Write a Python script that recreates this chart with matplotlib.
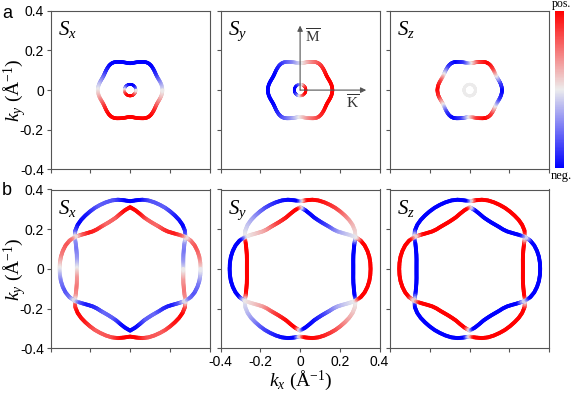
import numpy as np
import matplotlib
matplotlib.use("Agg")
import matplotlib.pyplot as plt
from matplotlib.collections import LineCollection
from matplotlib.colors import LinearSegmentedColormap, Normalize
from matplotlib.cm import ScalarMappable

plt.rcParams["axes.unicode_minus"] = False
plt.rcParams["mathtext.fontset"] = "custom"
plt.rcParams["mathtext.rm"] = "Liberation Serif"
plt.rcParams["mathtext.it"] = "Liberation Serif:italic"
plt.rcParams["mathtext.bf"] = "Liberation Serif:bold"
plt.rcParams["font.family"] = ["Liberation Sans", "DejaVu Sans"]

# ---------------- data ----------------
# contour radii (1/Angstrom) in the first quadrant, every 5 degrees (0..90);
# the contours are mirror symmetric about kx and ky axes
quadrant_deg = [0, 5, 10, 15, 20, 25, 30, 35, 40, 45, 50, 55, 60, 65, 70, 75, 80, 85, 90]
top_outer_r = [0.163, 0.162, 0.160, 0.157, 0.154, 0.152, 0.152, 0.154, 0.157, 0.160,
               0.163, 0.164, 0.162, 0.157, 0.151, 0.146, 0.141, 0.137, 0.135]
top_inner_radius = 0.029
bottom_a_r = [0.355, 0.355, 0.354, 0.351, 0.346, 0.337, 0.322, 0.300, 0.281, 0.267,
              0.260, 0.258, 0.257, 0.258, 0.262, 0.269, 0.282, 0.297, 0.311]
bottom_b_r = [0.268, 0.269, 0.272, 0.278, 0.288, 0.302, 0.322, 0.337, 0.345, 0.349,
              0.351, 0.353, 0.355, 0.356, 0.357, 0.357, 0.354, 0.347, 0.341]

# spin texture stops [angle deg, value] for 0..180 deg; the lower half follows by parity
top_outer_sx = [[0, 0], [10, -0.2], [20, -0.45], [35, -0.8], [50, -1], [130, -1],
                [145, -0.8], [160, -0.45], [170, -0.2], [180, 0]]
top_inner_sx = [[0, 0], [30, -0.6], [60, -0.95], [90, -1], [120, -0.95], [150, -0.6], [180, 0]]
top_outer_sy = [[0, 1], [30, 1], [50, 0.8], [70, 0.45], [90, 0], [110, -0.45],
                [130, -0.8], [150, -1], [180, -1]]
top_inner_sy = [[0, 1], [30, 0.95], [60, 0.6], [90, 0], [120, -0.6], [150, -0.95], [180, -1]]
top_outer_sz = [[0, -1], [15, -0.75], [30, 0], [45, 0.75], [60, 1], [75, 0.75], [90, 0],
                [105, -0.75], [120, -1], [135, -0.75], [150, 0], [165, 0.75], [180, 1]]
top_inner_sz = [[0, 0], [180, 0]]

bottom_a_sx = [[0, 0], [10, 0.45], [20, 0.65], [26, 0.5], [30, 0], [34, 0.6], [40, 0.9],
               [50, 0.8], [60, 0.55], [72, 0.6], [82, 0.95], [90, 1], [98, 0.95],
               [108, 0.6], [120, 0.55], [130, 0.8], [140, 0.9], [146, 0.6], [150, 0],
               [154, 0.5], [160, 0.65], [170, 0.45], [180, 0]]
bottom_b_sx = [[0, 0], [10, -0.35], [20, -0.5], [26, -0.4], [30, 0], [34, -0.7], [40, -1],
               [50, -0.9], [62, -0.6], [75, -0.65], [84, -1], [90, -1], [96, -1],
               [105, -0.65], [118, -0.6], [130, -0.9], [140, -1], [146, -0.7], [150, 0],
               [154, -0.4], [160, -0.5], [170, -0.35], [180, 0]]
bottom_a_sy = [[0, 1], [25, 1], [30, 0], [45, -0.3], [60, -0.7], [75, -0.95], [86, -1],
               [90, 0], [94, 1], [105, 0.95], [120, 0.7], [135, 0.3], [150, 0], [155, -1],
               [180, -1]]
bottom_b_sy = [[0, -1], [25, -1], [30, 0], [45, 0.3], [60, 0.7], [75, 0.95], [86, 1],
               [90, 0], [94, -1], [105, -0.95], [120, -0.7], [135, -0.3], [150, 0], [155, 1],
               [180, 1]]
bottom_a_sz = [[0, -1], [25, -1], [30, 0], [35, -1], [86, -1], [90, 0], [94, 1], [145, 1],
               [150, 0], [155, 1], [180, 1]]
bottom_b_sz = [[0, 1], [25, 1], [30, 0], [35, 1], [86, 1], [90, 0], [94, -1], [145, -1],
               [150, 0], [155, -1], [180, -1]]

# parity of each component under ky -> -ky
parity = {"x": -1, "y": 1, "z": 1}

tick_values = [-0.4, -0.2, 0, 0.2, 0.4]
tick_labels = ["-0.4", "-0.2", "0", "0.2", "0.4"]
panel_labels = [r"$S_x$", r"$S_y$", r"$S_z$"]

# ---------------- helpers ----------------
cmap = LinearSegmentedColormap.from_list("spin", ["#0000ff", "#ececec", "#ff0000"])
norm = Normalize(-1, 1)
full_deg = np.arange(0, 360, 5)


def full_ring(quad_r):
    q = np.asarray(quad_r, dtype=float)
    t = full_deg % 180
    t = np.where(t > 90, 180 - t, t)
    return q[(t // 5).astype(int)]


def full_stops(half, par):
    d = [s[0] for s in half] + [360 - s[0] for s in reversed(half[:-1])]
    v = [s[1] for s in half] + [par * s[1] for s in reversed(half[:-1])]
    return np.array(d, float), np.array(v, float)


def draw_contour(ax, r, stops, par, lw, nsub=4):
    th = np.deg2rad(full_deg)
    x = np.append(r * np.cos(th), r[0])
    y = np.append(r * np.sin(th), 0.0)
    sd, sv = full_stops(stops, par)
    segs, mids = [], []
    for i in range(len(full_deg)):
        for k in range(nsub):
            t0, t1 = k / nsub, (k + 1) / nsub
            p0 = (x[i] + (x[i + 1] - x[i]) * t0, y[i] + (y[i + 1] - y[i]) * t0)
            p1 = (x[i] + (x[i + 1] - x[i]) * t1, y[i] + (y[i + 1] - y[i]) * t1)
            segs.append([p0, p1])
            mids.append(full_deg[i] + 5 * (k + 0.5) / nsub)
    vals = np.interp(mids, sd, sv)
    lc = LineCollection(segs, colors=cmap(norm(vals)), linewidths=lw,
                        capstyle="round", joinstyle="round", zorder=2)
    ax.add_collection(lc)


# ---------------- figure ----------------
W, H = 571, 396
fig = plt.figure(figsize=(W / 100, H / 100), dpi=100)
lefts_px = [50.7, 220.7, 390.3]
size_px = 158.8
tops_px = [10.7, 189.5]
spine_c = "#555555"

top_sets = [(top_outer_sx, top_inner_sx, "x"), (top_outer_sy, top_inner_sy, "y"),
            (top_outer_sz, top_inner_sz, "z")]
bottom_sets = [(bottom_a_sx, bottom_b_sx, "x"), (bottom_a_sy, bottom_b_sy, "y"),
               (bottom_a_sz, bottom_b_sz, "z")]

r_top_outer = full_ring(top_outer_r)
r_top_inner = np.full(len(full_deg), top_inner_radius)
r_a = full_ring(bottom_a_r)
r_b = full_ring(bottom_b_r)

for row in range(2):
    for col in range(3):
        ax = fig.add_axes([lefts_px[col] / W, 1 - (tops_px[row] + size_px) / H,
                           size_px / W, size_px / H])
        ax.set_xlim(-0.4, 0.4)
        ax.set_ylim(-0.4, 0.4)
        for s in ax.spines.values():
            s.set_color(spine_c)
            s.set_linewidth(0.8)
        ax.tick_params(direction="out", length=3, width=0.8, color=spine_c,
                       labelsize=10, pad=2)
        ax.set_xticks(tick_values)
        ax.set_yticks(tick_values)
        if row == 1 and col == 1:
            ax.set_xticklabels(tick_labels)
        else:
            ax.set_xticklabels([])
        if col == 0:
            ax.set_yticklabels(tick_labels)
        else:
            ax.set_yticklabels([])
        if row == 0:
            outer, inner, comp = top_sets[col]
            draw_contour(ax, r_top_outer, outer, parity[comp], 2.6)
            draw_contour(ax, r_top_inner, inner, parity[comp], 2.0, nsub=2)
        else:
            sa, sb, comp = bottom_sets[col]
            draw_contour(ax, r_b, sb, parity[comp], 2.8)
            draw_contour(ax, r_a, sa, parity[comp], 2.8)
        ax.text(0.045, 0.945, panel_labels[col], transform=ax.transAxes,
                fontsize=15, ha="left", va="top")
        if row == 0 and col == 1:
            arrow_kw = dict(arrowstyle="-|>", color="#555555", lw=0.8,
                            mutation_scale=8, shrinkA=0, shrinkB=0)
            ax.annotate("", xy=(0, 0.325), xytext=(0, 0), arrowprops=arrow_kw, zorder=3)
            ax.annotate("", xy=(0.333, 0), xytext=(0, 0), arrowprops=arrow_kw, zorder=3)
            ax.text(0.0625, 0.268, r"$\overline{\mathrm{M}}$", fontsize=11,
                    ha="center", va="center", color="#333333")
            ax.text(0.2625, -0.065, r"$\overline{\mathrm{K}}$", fontsize=11,
                    ha="center", va="center", color="#333333")

# y labels
for cy in [10.7 + size_px / 2, 189.5 + size_px / 2]:
    fig.text(15 / W, 1 - cy / H, r"$k_y$ (Å$^{-1}$)", rotation=90, ha="center",
             va="center", fontsize=14, family="Liberation Serif")
# x label
fig.text(301 / W, 1 - 380 / H, r"$k_x$ (Å$^{-1}$)", ha="center", va="center",
         fontsize=14, family="Liberation Serif")

# panel letters
fig.text(2 / W, 1 - 18 / H, "a", fontsize=13, ha="left", va="baseline")
fig.text(2 / W, 1 - 195 / H, "b", fontsize=13, ha="left", va="baseline")

# colorbar
cax = fig.add_axes([555.3 / W, 1 - 168 / H, 8.7 / W, 157 / H])
cb = fig.colorbar(ScalarMappable(norm=norm, cmap=cmap), cax=cax)
cb.set_ticks([])
cb.outline.set_visible(False)
fig.text(561 / W, 1 - 7.5 / H, "pos.", fontsize=8.5, ha="center", va="baseline",
         family="Liberation Serif")
fig.text(561 / W, 1 - 179.5 / H, "neg.", fontsize=9, ha="center", va="baseline",
         family="Liberation Serif")

fig.savefig("out.png", dpi=100)
